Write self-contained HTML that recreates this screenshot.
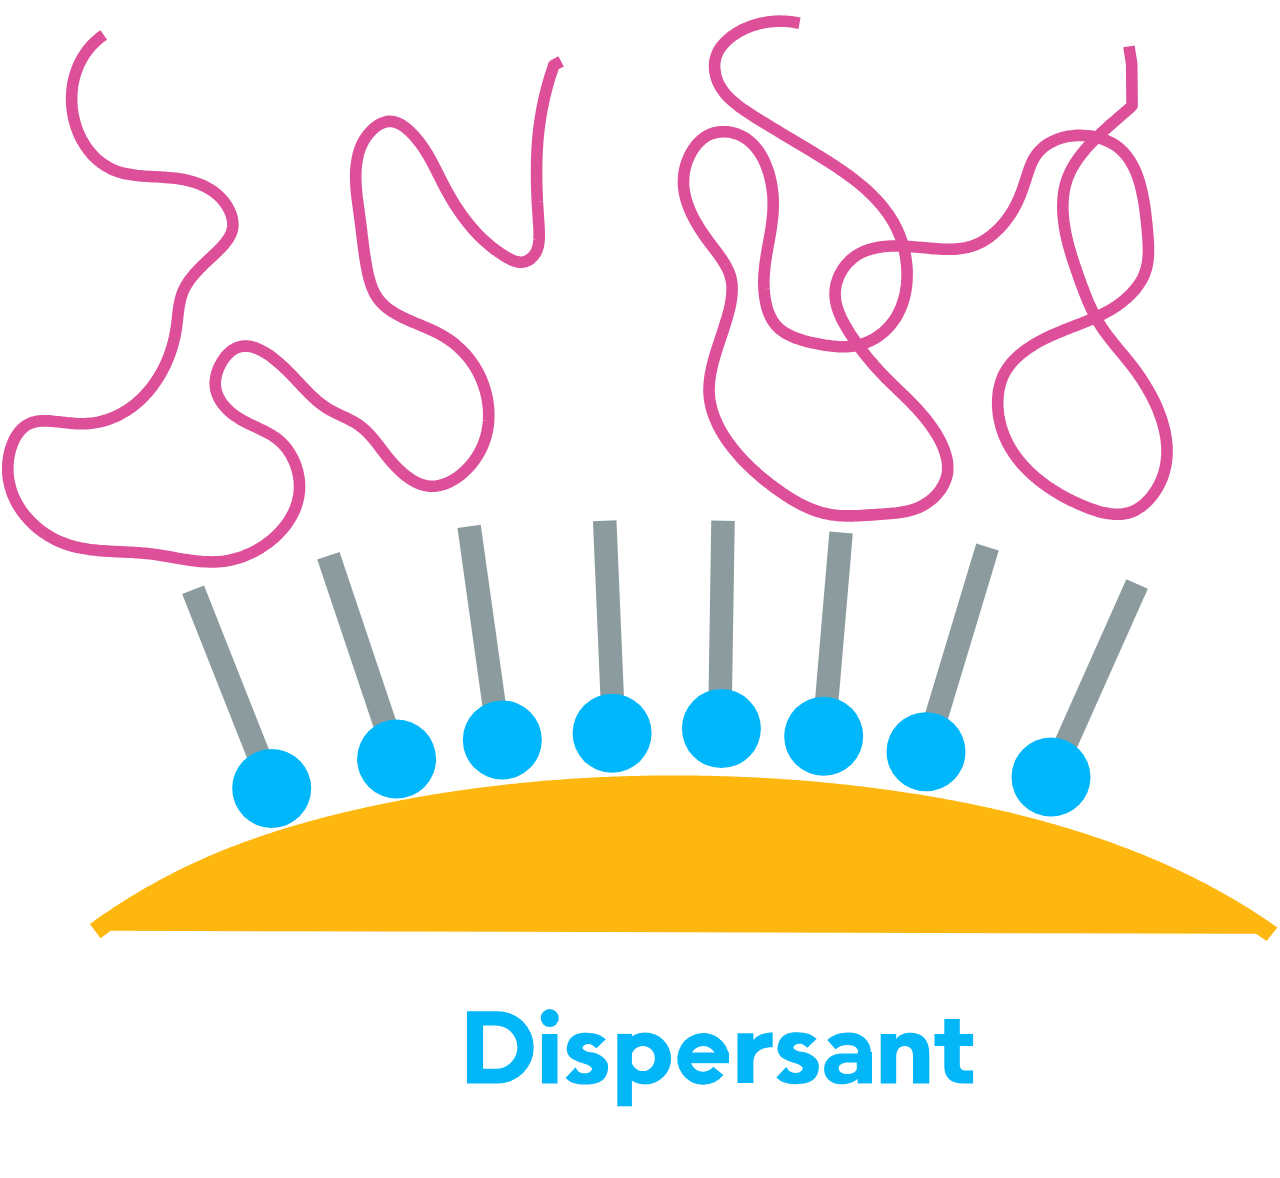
<!DOCTYPE html>
<html><head><meta charset="utf-8"><style>
html,body{margin:0;padding:0;background:#fff;}
body{width:1280px;height:1178px;position:relative;overflow:hidden;}
svg{position:absolute;left:0;top:0;}
.t span{position:absolute;transform-origin:0 0;font-family:"Liberation Sans",sans-serif;font-weight:bold;font-size:100px;line-height:1;color:#03b6f8;white-space:nowrap;}
</style></head><body>
<svg width="1280" height="1178" viewBox="0 0 1280 1178">
<path d="M89.7 924.2 L92.2 922.4 L94.7 920.6 L97.2 918.8 L99.6 917.1 L102.1 915.3 L104.6 913.6 L107.2 911.9 L109.7 910.2 L112.2 908.5 L114.7 906.8 L117.3 905.2 L119.8 903.5 L122.4 901.9 L124.9 900.3 L127.5 898.7 L130.1 897.1 L132.7 895.5 L135.3 893.9 L137.8 892.4 L140.4 890.9 L143.1 889.3 L145.7 887.8 L148.3 886.3 L150.9 884.9 L153.6 883.4 L156.2 881.9 L158.8 880.5 L161.5 879.1 L164.2 877.7 L166.8 876.3 L169.5 874.9 L172.2 873.5 L174.9 872.1 L177.5 870.8 L180.2 869.4 L182.9 868.1 L185.6 866.8 L188.4 865.5 L191.1 864.2 L193.8 863.0 L196.5 861.7 L199.3 860.5 L202.0 859.2 L204.8 858.0 L207.5 856.8 L210.3 855.6 L213.0 854.4 L215.8 853.3 L218.6 852.1 L221.3 851.0 L224.1 849.8 L226.9 848.7 L229.7 847.6 L232.5 846.5 L235.3 845.4 L238.1 844.4 L240.9 843.3 L243.7 842.3 L246.5 841.2 L249.4 840.2 L252.2 839.2 L255.0 838.2 L257.9 837.2 L260.7 836.2 L263.6 835.3 L266.4 834.3 L269.3 833.4 L272.1 832.4 L275.0 831.5 L277.8 830.6 L280.7 829.7 L283.6 828.8 L286.5 827.9 L289.3 827.1 L292.2 826.2 L295.1 825.4 L298.0 824.5 L300.9 823.7 L303.8 822.9 L306.7 822.0 L309.6 821.2 L312.5 820.4 L315.4 819.7 L318.3 818.9 L321.2 818.1 L324.1 817.4 L327.0 816.6 L329.9 815.9 L332.9 815.1 L335.8 814.4 L338.7 813.7 L341.6 813.0 L344.6 812.3 L347.5 811.6 L350.4 810.9 L353.4 810.2 L356.3 809.6 L359.3 808.9 L362.2 808.2 L365.1 807.6 L368.1 806.9 L371.0 806.3 L374.0 805.7 L376.9 805.1 L379.9 804.5 L382.8 803.8 L385.8 803.2 L388.7 802.7 L391.7 802.1 L394.7 801.5 L397.6 800.9 L400.6 800.3 L403.5 799.8 L406.5 799.2 L409.5 798.7 L412.4 798.1 L415.4 797.6 L418.4 797.1 L421.3 796.6 L424.3 796.1 L427.3 795.5 L430.2 795.0 L433.2 794.6 L436.2 794.1 L439.2 793.6 L442.1 793.1 L445.1 792.6 L448.1 792.2 L451.1 791.7 L454.1 791.3 L457.0 790.8 L460.0 790.4 L463.0 790.0 L466.0 789.6 L469.0 789.2 L472.0 788.7 L474.9 788.3 L477.9 787.9 L480.9 787.6 L483.9 787.2 L486.9 786.8 L489.9 786.4 L492.9 786.1 L495.9 785.7 L498.9 785.4 L501.9 785.0 L504.9 784.7 L507.9 784.3 L510.9 784.0 L513.9 783.7 L516.9 783.4 L519.9 783.1 L522.9 782.8 L525.9 782.5 L528.9 782.2 L531.9 781.9 L534.9 781.6 L537.9 781.4 L540.9 781.1 L543.9 780.8 L546.9 780.6 L549.9 780.4 L552.9 780.1 L555.9 779.9 L558.9 779.7 L561.9 779.4 L564.9 779.2 L567.9 779.0 L570.9 778.8 L573.9 778.6 L577.0 778.4 L580.0 778.2 L583.0 778.1 L586.0 777.9 L589.0 777.7 L592.0 777.6 L595.0 777.4 L598.0 777.3 L601.0 777.1 L604.1 777.0 L607.1 776.9 L610.1 776.7 L613.1 776.6 L616.1 776.5 L619.1 776.4 L622.1 776.3 L625.1 776.2 L628.2 776.1 L631.2 776.0 L634.2 775.9 L637.2 775.9 L640.2 775.8 L643.2 775.7 L646.2 775.7 L649.3 775.6 L652.3 775.6 L655.3 775.6 L658.3 775.5 L661.3 775.5 L664.3 775.5 L667.3 775.5 L670.4 775.5 L673.4 775.5 L676.4 775.5 L679.4 775.5 L682.4 775.5 L685.4 775.5 L688.4 775.5 L691.4 775.6 L694.5 775.6 L697.5 775.6 L700.5 775.7 L703.5 775.7 L706.5 775.8 L709.5 775.8 L712.5 775.9 L715.5 776.0 L718.6 776.1 L721.6 776.2 L724.6 776.2 L727.6 776.3 L730.6 776.4 L733.6 776.5 L736.6 776.7 L739.6 776.8 L742.6 776.9 L745.6 777.0 L748.6 777.2 L751.6 777.3 L754.6 777.5 L757.7 777.6 L760.7 777.8 L763.7 777.9 L766.7 778.1 L769.7 778.3 L772.7 778.4 L775.7 778.6 L778.7 778.8 L781.7 779.0 L784.7 779.2 L787.7 779.4 L790.7 779.6 L793.7 779.9 L796.7 780.1 L799.7 780.3 L802.7 780.6 L805.7 780.8 L808.7 781.1 L811.7 781.3 L814.7 781.6 L817.7 781.8 L820.7 782.1 L823.7 782.4 L826.7 782.7 L829.6 783.0 L832.6 783.3 L835.6 783.6 L838.6 783.9 L841.6 784.2 L844.6 784.5 L847.6 784.8 L850.6 785.2 L853.6 785.5 L856.6 785.9 L859.6 786.2 L862.5 786.6 L865.5 786.9 L868.5 787.3 L871.5 787.7 L874.5 788.1 L877.5 788.5 L880.5 788.9 L883.4 789.3 L886.4 789.7 L889.4 790.1 L892.4 790.5 L895.4 790.9 L898.4 791.4 L901.3 791.8 L904.3 792.2 L907.3 792.7 L910.3 793.2 L913.2 793.6 L916.2 794.1 L919.2 794.6 L922.2 795.0 L925.1 795.5 L928.1 796.0 L931.1 796.5 L934.1 797.0 L937.0 797.6 L940.0 798.1 L943.0 798.6 L945.9 799.2 L948.9 799.7 L951.9 800.3 L954.8 800.8 L957.8 801.4 L960.8 801.9 L963.7 802.5 L966.7 803.1 L969.6 803.7 L972.6 804.3 L975.5 804.9 L978.5 805.5 L981.4 806.2 L984.4 806.8 L987.3 807.4 L990.3 808.1 L993.2 808.7 L996.2 809.4 L999.1 810.1 L1002.0 810.7 L1005.0 811.4 L1007.9 812.1 L1010.8 812.8 L1013.8 813.5 L1016.7 814.3 L1019.6 815.0 L1022.5 815.7 L1025.5 816.5 L1028.4 817.2 L1031.3 818.0 L1034.2 818.7 L1037.1 819.5 L1040.0 820.3 L1042.9 821.1 L1045.8 821.9 L1048.7 822.7 L1051.6 823.5 L1054.5 824.3 L1057.4 825.2 L1060.3 826.0 L1063.2 826.9 L1066.1 827.7 L1069.0 828.6 L1071.9 829.5 L1074.7 830.4 L1077.6 831.3 L1080.5 832.2 L1083.3 833.1 L1086.2 834.0 L1089.1 835.0 L1091.9 835.9 L1094.8 836.9 L1097.6 837.8 L1100.5 838.8 L1103.3 839.8 L1106.2 840.8 L1109.0 841.8 L1111.8 842.8 L1114.7 843.8 L1117.5 844.9 L1120.3 845.9 L1123.1 847.0 L1125.9 848.0 L1128.7 849.1 L1131.6 850.2 L1134.4 851.3 L1137.1 852.4 L1139.9 853.5 L1142.7 854.6 L1145.5 855.8 L1148.3 856.9 L1151.1 858.1 L1153.8 859.3 L1156.6 860.4 L1159.4 861.6 L1162.1 862.8 L1164.9 864.0 L1167.6 865.3 L1170.3 866.5 L1173.1 867.8 L1175.8 869.0 L1178.5 870.3 L1181.3 871.6 L1184.0 872.9 L1186.7 874.2 L1189.4 875.5 L1192.1 876.8 L1194.8 878.2 L1197.5 879.5 L1200.1 880.9 L1202.8 882.2 L1205.5 883.6 L1208.2 885.0 L1210.8 886.4 L1213.5 887.9 L1216.1 889.3 L1218.7 890.8 L1221.4 892.2 L1224.0 893.7 L1226.6 895.2 L1229.2 896.7 L1231.9 898.2 L1234.5 899.7 L1237.0 901.3 L1239.6 902.8 L1242.2 904.4 L1244.8 905.9 L1247.4 907.5 L1249.9 909.1 L1252.5 910.8 L1255.0 912.4 L1257.6 914.0 L1260.1 915.7 L1262.6 917.3 L1265.1 919.0 L1267.7 920.7 L1270.2 922.4 L1272.7 924.2 L1275.1 925.9 L1277.6 927.7 L1278.0 926.8 L1266.5 941.0 L1256.0 933.8 L110.6 930.8 L100.5 938.2 L89.5 923.4 Z" fill="#feb70e"/>
<line x1="193.1" y1="589.7" x2="271.7" y2="788.4" stroke="#8c9c9e" stroke-width="23.5"/>
<line x1="328.4" y1="555.7" x2="396.6" y2="759.0" stroke="#8c9c9e" stroke-width="23.5"/>
<line x1="469.1" y1="526.4" x2="497.2" y2="727.0" stroke="#8c9c9e" stroke-width="23.5"/>
<line x1="604.7" y1="520.8" x2="612.8" y2="711.0" stroke="#8c9c9e" stroke-width="23.5"/>
<line x1="723.0" y1="520.8" x2="720.0" y2="712.0" stroke="#8c9c9e" stroke-width="23.5"/>
<line x1="841.1" y1="532.6" x2="823.7" y2="736.3" stroke="#8c9c9e" stroke-width="23.5"/>
<line x1="987.5" y1="547.0" x2="933.6" y2="726.0" stroke="#8c9c9e" stroke-width="23.5"/>
<line x1="1137.1" y1="584.0" x2="1051.0" y2="777.1" stroke="#8c9c9e" stroke-width="23.5"/>
<circle cx="271.7" cy="788.4" r="39.5" fill="#00b7fb"/>
<circle cx="396.6" cy="759.0" r="39.5" fill="#00b7fb"/>
<circle cx="502.3" cy="739.9" r="39.5" fill="#00b7fb"/>
<circle cx="612.1" cy="733.2" r="39.5" fill="#00b7fb"/>
<circle cx="721.4" cy="728.6" r="39.5" fill="#00b7fb"/>
<circle cx="823.7" cy="736.3" r="39.5" fill="#00b7fb"/>
<circle cx="926.0" cy="751.8" r="39.5" fill="#00b7fb"/>
<circle cx="1051.0" cy="777.1" r="39.5" fill="#00b7fb"/>
<path d="M103.8 34.9 L101.1 36.8 L98.6 38.8 L96.1 41.0 L93.8 43.2 L91.6 45.4 L89.5 47.8 L87.6 50.2 L85.7 52.7 L84.0 55.3 L82.4 57.9 L80.9 60.6 L79.5 63.3 L78.2 66.0 L77.1 68.9 L76.1 71.7 L75.1 74.6 L74.3 77.5 L73.6 80.4 L73.0 83.4 L72.5 86.4 L72.1 89.4 L71.9 92.4 L71.7 95.4 L71.6 98.4 L71.7 101.4 L71.8 104.4 L72.0 107.4 L72.4 110.4 L72.8 113.3 L73.4 116.3 L74.0 119.2 L74.7 122.1 L75.6 124.9 L76.5 127.8 L77.5 130.5 L78.6 133.3 L79.8 135.9 L81.1 138.6 L82.5 141.1 L84.0 143.6 L85.5 146.1 L87.2 148.4 L88.9 150.7 L90.7 152.9 L92.6 155.1 L94.6 157.1 L96.7 159.1 L98.8 160.9 L101.1 162.7 L103.4 164.3 L105.8 165.9 L108.3 167.3 L110.8 168.7 L113.4 169.9 L116.1 171.0 L118.9 171.9 L121.8 172.8 L124.7 173.5 L127.6 174.1 L130.7 174.6 L133.7 175.1 L136.9 175.5 L140.0 175.8 L143.2 176.1 L146.4 176.3 L149.7 176.5 L152.9 176.7 L156.2 176.8 L159.4 177.0 L162.7 177.2 L166.0 177.4 L169.2 177.7 L172.4 178.0 L175.6 178.3 L178.8 178.8 L181.9 179.3 L185.0 179.8 L188.0 180.5 L191.0 181.3 L194.0 182.1 L196.8 183.1 L199.6 184.1 L202.4 185.3 L205.1 186.6 L207.6 187.9 L210.2 189.4 L212.6 191.0 L214.9 192.7 L217.1 194.5 L219.3 196.5 L221.3 198.5 L223.2 200.7 L225.0 203.1 L226.7 205.5 L228.2 208.0 L229.5 210.6 L230.7 213.3 L231.6 216.0 L232.3 218.8 L232.7 221.5 L232.9 224.3 L232.7 227.0 L232.3 229.8 L231.5 232.4 L230.4 235.0 L229.0 237.6 L227.4 240.1 L225.5 242.6 L223.5 245.1 L221.3 247.4 L219.0 249.8 L216.7 252.1 L214.2 254.4 L211.8 256.7 L209.4 258.9 L207.0 261.2 L204.7 263.4 L202.4 265.6 L200.2 267.8 L198.1 270.0 L196.0 272.2 L194.1 274.4 L192.2 276.7 L190.4 279.0 L188.7 281.3 L187.2 283.7 L185.7 286.1 L184.4 288.6 L183.2 291.1 L182.2 293.7 L181.3 296.4 L180.5 299.1 L179.9 302.0 L179.3 304.8 L178.8 307.7 L178.4 310.7 L178.0 313.7 L177.7 316.7 L177.4 319.8 L177.0 322.8 L176.6 325.9 L176.2 328.9 L175.7 332.0 L175.1 335.0 L174.5 338.0 L173.7 341.0 L173.0 344.0 L172.1 347.0 L171.2 349.9 L170.2 352.8 L169.2 355.7 L168.0 358.5 L166.9 361.4 L165.6 364.2 L164.3 366.9 L162.9 369.6 L161.5 372.3 L160.0 374.9 L158.4 377.5 L156.8 380.1 L155.1 382.6 L153.4 385.0 L151.6 387.4 L149.7 389.7 L147.8 392.0 L145.8 394.2 L143.8 396.4 L141.7 398.5 L139.6 400.5 L137.4 402.4 L135.2 404.3 L132.9 406.1 L130.5 407.9 L128.1 409.5 L125.7 411.1 L123.1 412.6 L120.6 414.0 L118.0 415.4 L115.3 416.6 L112.6 417.7 L109.9 418.8 L107.1 419.8 L104.3 420.6 L101.4 421.4 L98.5 422.1 L95.5 422.6 L92.5 423.1 L89.5 423.4 L86.4 423.6 L83.3 423.7 L80.1 423.7 L76.9 423.6 L73.7 423.4 L70.4 423.1 L67.2 422.8 L63.9 422.4 L60.7 422.0 L57.5 421.7 L54.3 421.4 L51.2 421.1 L48.1 420.9 L45.1 420.9 L42.1 420.9 L39.2 421.1 L36.5 421.5 L33.8 422.1 L31.2 422.9 L28.8 424.0 L26.5 425.3 L24.3 426.8 L22.3 428.5 L20.3 430.5 L18.6 432.6 L16.9 435.0 L15.4 437.4 L14.0 440.1 L12.8 442.8 L11.7 445.6 L10.7 448.6 L9.9 451.6 L9.2 454.7 L8.6 457.8 L8.2 461.0 L7.9 464.1 L7.8 467.3 L7.8 470.4 L7.9 473.6 L8.2 476.6 L8.6 479.7 L9.2 482.7 L9.9 485.6 L10.7 488.6 L11.6 491.4 L12.6 494.3 L13.8 497.0 L15.1 499.8 L16.4 502.5 L17.9 505.1 L19.5 507.6 L21.1 510.1 L22.9 512.6 L24.7 515.0 L26.7 517.3 L28.7 519.6 L30.7 521.7 L32.9 523.9 L35.1 525.9 L37.4 527.9 L39.8 529.8 L42.2 531.6 L44.7 533.3 L47.2 534.9 L49.7 536.5 L52.4 538.0 L55.0 539.4 L57.7 540.7 L60.4 541.9 L63.2 543.0 L65.9 544.0 L68.7 545.0 L71.6 545.8 L74.4 546.6 L77.3 547.3 L80.2 547.9 L83.1 548.4 L86.0 548.9 L89.0 549.4 L91.9 549.8 L94.9 550.1 L97.9 550.4 L100.9 550.7 L103.9 550.9 L106.9 551.1 L110.0 551.3 L113.0 551.5 L116.1 551.6 L119.1 551.7 L122.2 551.9 L125.2 552.0 L128.3 552.2 L131.4 552.3 L134.4 552.5 L137.5 552.7 L140.5 552.9 L143.6 553.2 L146.6 553.4 L149.7 553.8 L152.7 554.1 L155.7 554.6 L158.8 555.0 L161.8 555.5 L164.8 556.0 L167.8 556.5 L170.8 557.0 L173.7 557.5 L176.7 558.1 L179.7 558.6 L182.7 559.1 L185.6 559.6 L188.6 560.0 L191.6 560.4 L194.5 560.8 L197.5 561.2 L200.4 561.4 L203.4 561.7 L206.3 561.8 L209.3 561.9 L212.2 562.0 L215.2 561.9 L218.1 561.8 L221.0 561.5 L224.0 561.2 L226.9 560.7 L229.9 560.2 L232.8 559.5 L235.7 558.7 L238.6 557.9 L241.5 556.9 L244.4 555.9 L247.2 554.7 L250.0 553.5 L252.8 552.2 L255.5 550.8 L258.2 549.3 L260.8 547.7 L263.4 546.0 L265.9 544.3 L268.4 542.5 L270.8 540.6 L273.2 538.6 L275.4 536.6 L277.6 534.5 L279.7 532.3 L281.8 530.1 L283.7 527.8 L285.6 525.5 L287.3 523.1 L289.0 520.6 L290.5 518.1 L292.0 515.5 L293.3 512.9 L294.5 510.3 L295.6 507.6 L296.6 504.8 L297.4 502.0 L298.1 499.2 L298.7 496.4 L299.1 493.5 L299.4 490.6 L299.5 487.6 L299.5 484.7 L299.4 481.7 L299.0 478.7 L298.5 475.6 L297.9 472.6 L297.1 469.6 L296.2 466.7 L295.2 463.8 L294.0 460.9 L292.6 458.1 L291.2 455.4 L289.6 452.7 L287.9 450.2 L286.1 447.7 L284.1 445.4 L282.1 443.3 L279.9 441.2 L277.7 439.3 L275.3 437.6 L272.9 435.9 L270.4 434.4 L267.8 432.9 L265.1 431.6 L262.5 430.2 L259.8 428.9 L257.0 427.6 L254.3 426.3 L251.5 425.0 L248.8 423.7 L246.0 422.3 L243.3 420.9 L240.6 419.4 L238.0 417.7 L235.4 416.0 L232.9 414.2 L230.5 412.2 L228.2 410.1 L226.0 407.9 L223.9 405.5 L222.0 403.1 L220.4 400.6 L218.9 397.9 L217.6 395.2 L216.6 392.4 L215.8 389.5 L215.4 386.5 L215.2 383.4 L215.4 380.3 L215.9 377.1 L216.6 373.9 L217.6 370.8 L218.8 367.7 L220.3 364.7 L221.9 361.8 L223.7 359.1 L225.6 356.5 L227.7 354.2 L229.9 352.1 L232.1 350.3 L234.5 348.9 L236.8 347.7 L239.2 346.9 L241.7 346.3 L244.2 346.1 L246.7 346.1 L249.2 346.3 L251.8 346.8 L254.3 347.5 L256.9 348.5 L259.5 349.6 L262.1 350.9 L264.7 352.4 L267.3 354.0 L269.9 355.7 L272.4 357.6 L274.9 359.6 L277.4 361.7 L279.9 363.8 L282.4 366.0 L284.8 368.3 L287.1 370.5 L289.4 372.8 L291.7 375.1 L293.9 377.4 L296.0 379.7 L298.1 381.9 L300.2 384.1 L302.2 386.3 L304.3 388.4 L306.3 390.5 L308.3 392.6 L310.3 394.6 L312.4 396.6 L314.5 398.5 L316.6 400.4 L318.8 402.2 L321.0 404.0 L323.3 405.7 L325.7 407.3 L328.2 408.9 L330.8 410.4 L333.5 411.8 L336.2 413.2 L339.1 414.6 L341.9 415.9 L344.8 417.3 L347.6 418.6 L350.4 420.1 L353.1 421.5 L355.8 423.1 L358.3 424.7 L360.7 426.5 L363.0 428.3 L365.2 430.2 L367.3 432.2 L369.3 434.3 L371.3 436.5 L373.2 438.7 L375.1 441.0 L376.9 443.3 L378.7 445.6 L380.5 448.0 L382.3 450.4 L384.2 452.8 L386.0 455.2 L388.0 457.6 L389.9 460.0 L392.0 462.4 L394.1 464.7 L396.3 467.0 L398.5 469.3 L400.8 471.4 L403.1 473.5 L405.5 475.5 L408.0 477.3 L410.4 479.0 L413.0 480.6 L415.5 482.0 L418.1 483.2 L420.8 484.3 L423.4 485.1 L426.1 485.7 L428.8 486.1 L431.5 486.3 L434.3 486.2 L437.0 485.9 L439.7 485.4 L442.5 484.7 L445.2 483.8 L447.9 482.7 L450.5 481.4 L453.1 480.0 L455.7 478.4 L458.2 476.7 L460.7 474.8 L463.1 472.8 L465.4 470.6 L467.6 468.4 L469.8 466.1 L471.8 463.6 L473.8 461.1 L475.7 458.5 L477.4 455.8 L479.0 453.1 L480.5 450.4 L481.9 447.5 L483.1 444.7 L484.2 441.8 L485.2 438.9 L486.1 436.0 L486.8 433.0 L487.4 430.0 L487.9 427.0 L488.3 424.0 L488.6 421.0 L488.7 418.0 L488.8 415.0 L488.7 412.0 L488.6 409.0 L488.3 406.0 L487.9 403.0 L487.5 400.0 L486.9 397.0 L486.2 394.1 L485.5 391.2 L484.6 388.3 L483.7 385.5 L482.7 382.7 L481.6 379.9 L480.4 377.2 L479.2 374.6 L477.8 371.9 L476.4 369.4 L474.9 366.8 L473.3 364.4 L471.6 362.0 L469.9 359.6 L468.1 357.3 L466.2 355.1 L464.3 352.9 L462.2 350.7 L460.1 348.7 L457.9 346.7 L455.7 344.7 L453.4 342.9 L451.0 341.1 L448.5 339.4 L446.0 337.7 L443.4 336.1 L440.7 334.6 L438.0 333.2 L435.2 331.8 L432.4 330.4 L429.6 329.2 L426.7 327.9 L423.8 326.7 L420.9 325.4 L418.0 324.2 L415.1 323.0 L412.3 321.8 L409.4 320.5 L406.6 319.3 L403.8 318.0 L401.1 316.6 L398.4 315.3 L395.8 313.8 L393.3 312.3 L390.9 310.7 L388.5 309.0 L386.2 307.3 L384.1 305.4 L382.1 303.4 L380.1 301.3 L378.4 299.1 L376.7 296.8 L375.2 294.3 L373.9 291.7 L372.6 288.9 L371.5 286.1 L370.5 283.2 L369.6 280.2 L368.8 277.2 L368.0 274.1 L367.4 271.1 L366.8 268.0 L366.2 264.9 L365.7 261.8 L365.2 258.8 L364.7 255.8 L364.3 252.8 L363.9 249.9 L363.5 246.9 L363.1 243.9 L362.7 241.0 L362.4 238.1 L362.0 235.2 L361.7 232.2 L361.3 229.3 L361.0 226.4 L360.6 223.5 L360.2 220.5 L359.8 217.6 L359.4 214.6 L359.0 211.7 L358.6 208.7 L358.2 205.7 L357.8 202.7 L357.4 199.7 L357.0 196.7 L356.7 193.7 L356.4 190.7 L356.1 187.7 L356.0 184.7 L355.8 181.7 L355.7 178.7 L355.7 175.7 L355.8 172.7 L355.9 169.7 L356.2 166.7 L356.5 163.7 L357.0 160.7 L357.5 157.7 L358.2 154.7 L359.0 151.8 L360.0 148.9 L361.1 146.0 L362.4 143.2 L363.9 140.4 L365.6 137.8 L367.4 135.2 L369.5 132.7 L371.7 130.4 L374.0 128.2 L376.4 126.3 L378.9 124.7 L381.5 123.3 L384.1 122.3 L386.8 121.6 L389.4 121.3 L392.1 121.5 L394.7 122.0 L397.3 122.9 L399.9 124.0 L402.4 125.5 L404.9 127.2 L407.3 129.1 L409.6 131.2 L411.9 133.5 L414.1 135.8 L416.2 138.3 L418.2 140.7 L420.2 143.2 L422.0 145.8 L423.7 148.3 L425.4 150.8 L427.0 153.4 L428.6 156.0 L430.0 158.6 L431.5 161.2 L432.9 163.8 L434.2 166.4 L435.6 169.0 L436.9 171.7 L438.2 174.3 L439.6 176.9 L440.9 179.6 L442.2 182.2 L443.6 184.8 L444.9 187.5 L446.3 190.1 L447.8 192.7 L449.3 195.3 L450.8 197.9 L452.3 200.5 L453.9 203.1 L455.5 205.7 L457.2 208.2 L458.9 210.7 L460.6 213.2 L462.3 215.7 L464.1 218.1 L466.0 220.6 L467.8 222.9 L469.8 225.3 L471.7 227.6 L473.7 229.9 L475.7 232.1 L477.8 234.4 L479.9 236.5 L482.1 238.6 L484.3 240.7 L486.6 242.7 L488.9 244.7 L491.2 246.6 L493.6 248.5 L496.0 250.3 L498.5 252.0 L501.0 253.7 L503.6 255.4 L506.2 256.9 L508.8 258.4 L511.5 259.8 L514.3 261.0 L517.0 261.8 L519.8 262.3 L522.5 262.2 L525.2 261.6 L527.8 260.5 L530.2 259.0 L532.3 257.2 L534.1 255.2 L535.6 252.9 L536.8 250.5 L537.7 247.9 L538.4 245.2 L538.8 242.3 L539.1 239.3 L539.2 236.3 L539.2 233.1 L539.1 230.0 L539.0 226.7 L538.7 223.5 L538.5 220.3 L538.3 217.1 L538.1 213.9 L537.9 210.7 L537.7 207.6 L537.5 204.4 L537.3 201.3 L537.2 198.2 L537.1 195.1 L536.9 192.1 L536.8 189.0 L536.7 186.0 L536.7 182.9 L536.6 179.9 L536.6 176.9 L536.6 174.0 L536.6 171.0 L536.6 168.0 L536.6 165.0 L536.7 162.1 L536.7 159.2 L536.9 156.2 L537.0 153.3 L537.1 150.4 L537.3 147.5 L537.5 144.5 L537.7 141.6 L537.9 138.7 L538.2 135.8 L538.5 132.9 L538.8 130.0 L539.2 127.1 L539.6 124.2 L540.0 121.3 L540.4 118.4 L540.9 115.5 L541.4 112.6 L541.9 109.7 L542.5 106.8 L543.1 103.9 L543.7 100.9 L544.3 98.0 L545.0 95.0 L545.8 92.1 L546.5 89.1 L547.3 86.2 L548.2 83.2 L549.0 80.2 L549.9 77.2 L550.9 74.2 L551.9 71.2 L552.9 68.1 L554.0 65.1 L553.5 65.5 L561.1 61.4" fill="none" stroke="#de4f9a" stroke-width="11.6" stroke-linejoin="round"/>
<path d="M1128.9 46.4 L1131.7 63.9 L1132.1 105.8 L1132.1 105.8 L1129.8 107.9 L1127.6 109.8 L1125.3 111.8 L1123.1 113.8 L1120.9 115.7 L1118.6 117.7 L1116.4 119.6 L1114.1 121.6 L1111.9 123.5 L1109.6 125.5 L1107.4 127.5 L1105.2 129.5 L1103.0 131.5 L1100.8 133.5 L1098.6 135.6 L1096.4 137.7 L1094.3 139.9 L1092.1 142.1 L1090.0 144.3 L1087.9 146.5 L1085.9 148.8 L1083.9 151.2 L1081.9 153.6 L1080.1 156.0 L1078.2 158.5 L1076.5 161.0 L1074.8 163.5 L1073.3 166.1 L1071.8 168.7 L1070.4 171.4 L1069.2 174.1 L1068.0 176.8 L1067.0 179.6 L1066.1 182.4 L1065.3 185.2 L1064.6 188.1 L1064.1 191.0 L1063.6 193.9 L1063.3 196.9 L1063.0 199.8 L1062.9 202.8 L1062.8 205.8 L1062.8 208.8 L1062.9 211.7 L1063.1 214.7 L1063.4 217.7 L1063.7 220.7 L1064.1 223.6 L1064.5 226.6 L1065.0 229.5 L1065.5 232.4 L1066.1 235.4 L1066.8 238.3 L1067.5 241.2 L1068.2 244.1 L1069.0 247.0 L1069.8 249.8 L1070.7 252.7 L1071.5 255.6 L1072.4 258.5 L1073.4 261.4 L1074.3 264.2 L1075.3 267.1 L1076.3 270.0 L1077.3 272.9 L1078.3 275.8 L1079.3 278.7 L1080.4 281.6 L1081.4 284.5 L1082.5 287.4 L1083.6 290.2 L1084.7 293.1 L1085.8 296.0 L1087.0 298.8 L1088.1 301.6 L1089.4 304.4 L1090.6 307.2 L1091.9 309.9 L1093.2 312.6 L1094.6 315.2 L1096.0 317.9 L1097.5 320.4 L1099.0 323.0 L1100.5 325.4 L1102.1 327.9 L1103.7 330.3 L1105.4 332.6 L1107.1 335.0 L1108.9 337.3 L1110.7 339.5 L1112.5 341.8 L1114.3 344.1 L1116.1 346.3 L1118.0 348.6 L1119.8 350.8 L1121.7 353.1 L1123.6 355.3 L1125.4 357.6 L1127.3 359.9 L1129.2 362.2 L1131.0 364.6 L1132.9 366.9 L1134.7 369.4 L1136.5 371.8 L1138.3 374.3 L1140.0 376.9 L1141.8 379.4 L1143.4 382.1 L1145.1 384.7 L1146.7 387.4 L1148.3 390.1 L1149.8 392.8 L1151.3 395.6 L1152.8 398.4 L1154.2 401.2 L1155.5 404.0 L1156.8 406.8 L1158.0 409.7 L1159.1 412.6 L1160.2 415.5 L1161.2 418.4 L1162.2 421.3 L1163.0 424.3 L1163.8 427.2 L1164.6 430.2 L1165.2 433.1 L1165.7 436.1 L1166.2 439.0 L1166.5 442.0 L1166.8 444.9 L1167.0 447.9 L1167.0 450.8 L1167.0 453.8 L1166.8 456.7 L1166.6 459.6 L1166.2 462.5 L1165.7 465.4 L1165.1 468.3 L1164.4 471.2 L1163.6 474.0 L1162.6 476.9 L1161.5 479.7 L1160.3 482.4 L1158.9 485.2 L1157.4 487.9 L1155.8 490.5 L1154.1 493.0 L1152.3 495.5 L1150.4 497.9 L1148.4 500.1 L1146.3 502.2 L1144.1 504.2 L1141.9 506.1 L1139.5 507.7 L1137.1 509.2 L1134.6 510.6 L1132.0 511.7 L1129.4 512.6 L1126.8 513.3 L1124.1 513.8 L1121.3 514.2 L1118.5 514.3 L1115.7 514.3 L1112.8 514.1 L1109.9 513.8 L1107.0 513.3 L1104.0 512.8 L1101.1 512.1 L1098.1 511.3 L1095.1 510.3 L1092.2 509.4 L1089.2 508.3 L1086.3 507.1 L1083.3 505.9 L1080.4 504.7 L1077.5 503.4 L1074.6 502.0 L1071.7 500.7 L1068.9 499.3 L1066.1 497.8 L1063.3 496.3 L1060.5 494.8 L1057.8 493.2 L1055.1 491.5 L1052.5 489.9 L1049.9 488.2 L1047.3 486.4 L1044.8 484.6 L1042.3 482.8 L1039.9 480.9 L1037.5 479.0 L1035.2 477.1 L1032.9 475.1 L1030.7 473.0 L1028.5 471.0 L1026.4 468.8 L1024.3 466.7 L1022.3 464.5 L1020.4 462.2 L1018.5 459.9 L1016.7 457.6 L1015.0 455.2 L1013.3 452.8 L1011.8 450.4 L1010.2 447.9 L1008.8 445.3 L1007.4 442.8 L1006.2 440.1 L1005.0 437.5 L1003.8 434.8 L1002.8 432.0 L1001.9 429.2 L1001.0 426.4 L1000.3 423.5 L999.6 420.6 L999.0 417.7 L998.5 414.7 L998.2 411.7 L997.9 408.6 L997.7 405.6 L997.7 402.6 L997.8 399.5 L998.0 396.5 L998.3 393.5 L998.7 390.6 L999.3 387.6 L1000.0 384.8 L1000.8 381.9 L1001.8 379.2 L1002.9 376.4 L1004.1 373.8 L1005.6 371.2 L1007.1 368.8 L1008.8 366.4 L1010.6 364.0 L1012.5 361.8 L1014.6 359.6 L1016.7 357.5 L1018.9 355.4 L1021.3 353.5 L1023.7 351.6 L1026.1 349.7 L1028.7 348.0 L1031.3 346.3 L1033.9 344.6 L1036.6 343.0 L1039.3 341.5 L1042.1 340.0 L1044.9 338.6 L1047.7 337.3 L1050.5 335.9 L1053.3 334.7 L1056.1 333.4 L1058.9 332.3 L1061.8 331.1 L1064.6 329.9 L1067.4 328.8 L1070.3 327.7 L1073.1 326.6 L1075.9 325.5 L1078.7 324.4 L1081.6 323.3 L1084.4 322.2 L1087.1 321.1 L1089.9 319.9 L1092.6 318.8 L1095.4 317.6 L1098.1 316.3 L1100.8 315.0 L1103.4 313.7 L1106.0 312.3 L1108.6 310.9 L1111.2 309.4 L1113.7 307.9 L1116.2 306.2 L1118.7 304.5 L1121.1 302.8 L1123.4 300.9 L1125.8 298.9 L1128.0 296.9 L1130.2 294.8 L1132.2 292.7 L1134.2 290.5 L1136.1 288.2 L1137.9 285.8 L1139.5 283.4 L1141.1 281.0 L1142.5 278.5 L1143.7 275.9 L1144.8 273.3 L1145.7 270.7 L1146.5 268.0 L1147.1 265.2 L1147.6 262.5 L1148.0 259.6 L1148.2 256.8 L1148.4 253.9 L1148.5 251.0 L1148.4 248.0 L1148.4 245.0 L1148.2 242.0 L1148.0 239.0 L1147.8 235.9 L1147.5 232.8 L1147.3 229.7 L1147.0 226.5 L1146.7 223.4 L1146.3 220.2 L1146.0 217.0 L1145.6 213.8 L1145.2 210.6 L1144.8 207.4 L1144.3 204.3 L1143.8 201.1 L1143.2 198.0 L1142.6 194.9 L1141.9 191.8 L1141.2 188.7 L1140.5 185.7 L1139.6 182.7 L1138.7 179.8 L1137.8 177.0 L1136.7 174.1 L1135.6 171.4 L1134.4 168.7 L1133.1 166.1 L1131.7 163.6 L1130.3 161.1 L1128.7 158.8 L1127.1 156.5 L1125.3 154.3 L1123.4 152.2 L1121.5 150.3 L1119.4 148.4 L1117.2 146.7 L1114.9 145.0 L1112.4 143.5 L1109.9 142.2 L1107.2 140.9 L1104.5 139.8 L1101.7 138.8 L1098.8 137.9 L1095.9 137.2 L1092.9 136.5 L1089.9 136.0 L1086.9 135.7 L1083.8 135.5 L1080.7 135.4 L1077.6 135.4 L1074.5 135.6 L1071.5 135.9 L1068.5 136.3 L1065.5 136.9 L1062.5 137.7 L1059.7 138.5 L1056.8 139.5 L1054.1 140.7 L1051.5 142.0 L1048.9 143.4 L1046.4 145.0 L1044.1 146.7 L1041.9 148.6 L1039.8 150.6 L1037.9 152.8 L1036.1 155.1 L1034.5 157.5 L1033.0 160.1 L1031.7 162.9 L1030.5 165.7 L1029.4 168.6 L1028.4 171.5 L1027.4 174.5 L1026.4 177.5 L1025.5 180.5 L1024.5 183.4 L1023.5 186.4 L1022.5 189.3 L1021.5 192.1 L1020.4 194.9 L1019.2 197.7 L1018.0 200.5 L1016.7 203.3 L1015.3 206.0 L1013.9 208.7 L1012.3 211.4 L1010.6 214.0 L1008.9 216.6 L1007.0 219.2 L1005.1 221.7 L1003.1 224.1 L1001.0 226.5 L998.9 228.7 L996.6 230.9 L994.3 233.0 L992.0 235.0 L989.6 236.9 L987.1 238.6 L984.6 240.3 L982.1 241.8 L979.5 243.1 L976.9 244.3 L974.2 245.3 L971.5 246.2 L968.8 247.0 L966.0 247.6 L963.2 248.1 L960.4 248.6 L957.6 248.9 L954.7 249.1 L951.8 249.2 L948.9 249.3 L946.0 249.2 L943.0 249.2 L940.0 249.0 L937.0 248.8 L934.0 248.6 L931.0 248.4 L928.0 248.1 L924.9 247.8 L921.9 247.5 L918.8 247.2 L915.7 247.0 L912.7 246.7 L909.6 246.5 L906.5 246.3 L903.4 246.1 L900.3 246.0 L897.2 245.9 L894.1 246.0 L891.1 246.0 L888.0 246.2 L884.9 246.5 L881.9 246.8 L878.9 247.3 L875.9 247.9 L872.9 248.5 L870.0 249.3 L867.2 250.3 L864.4 251.3 L861.7 252.5 L859.1 253.9 L856.6 255.4 L854.2 257.0 L851.9 258.9 L849.7 260.9 L847.6 263.0 L845.6 265.3 L843.8 267.7 L842.2 270.2 L840.7 272.8 L839.3 275.4 L838.1 278.2 L837.2 281.0 L836.3 283.8 L835.7 286.7 L835.3 289.6 L835.1 292.5 L835.1 295.4 L835.3 298.3 L835.7 301.1 L836.3 304.0 L837.0 306.9 L837.9 309.7 L838.9 312.5 L840.1 315.3 L841.3 318.1 L842.7 320.9 L844.2 323.6 L845.7 326.3 L847.3 329.0 L848.9 331.7 L850.6 334.3 L852.3 336.9 L854.1 339.5 L855.8 342.0 L857.6 344.5 L859.4 347.0 L861.2 349.5 L863.1 351.9 L864.9 354.3 L866.8 356.6 L868.7 359.0 L870.6 361.3 L872.6 363.5 L874.5 365.8 L876.5 368.0 L878.5 370.2 L880.5 372.4 L882.6 374.5 L884.6 376.7 L886.7 378.8 L888.8 380.8 L890.9 382.9 L893.0 385.0 L895.2 387.0 L897.3 389.1 L899.4 391.1 L901.5 393.2 L903.7 395.2 L905.8 397.3 L907.9 399.4 L910.0 401.5 L912.1 403.6 L914.1 405.8 L916.2 407.9 L918.2 410.1 L920.2 412.4 L922.2 414.7 L924.2 417.0 L926.1 419.4 L928.0 421.8 L929.8 424.2 L931.6 426.8 L933.4 429.4 L935.1 432.0 L936.8 434.7 L938.4 437.4 L939.9 440.2 L941.3 443.0 L942.6 445.9 L943.8 448.7 L944.8 451.6 L945.7 454.5 L946.5 457.3 L947.1 460.2 L947.5 463.1 L947.7 466.0 L947.7 468.8 L947.6 471.6 L947.2 474.4 L946.5 477.1 L945.7 479.8 L944.6 482.4 L943.4 485.0 L942.0 487.5 L940.4 490.0 L938.6 492.3 L936.7 494.5 L934.6 496.7 L932.5 498.7 L930.1 500.6 L927.7 502.4 L925.2 504.0 L922.6 505.6 L919.9 506.9 L917.2 508.1 L914.4 509.1 L911.5 510.0 L908.6 510.8 L905.6 511.5 L902.6 512.0 L899.6 512.5 L896.5 512.9 L893.4 513.2 L890.3 513.5 L887.1 513.7 L884.0 514.0 L880.8 514.2 L877.6 514.4 L874.4 514.7 L871.2 514.9 L868.1 515.1 L864.9 515.3 L861.7 515.5 L858.6 515.7 L855.5 515.8 L852.3 515.9 L849.3 515.9 L846.2 515.9 L843.2 515.8 L840.2 515.7 L837.3 515.4 L834.3 515.1 L831.5 514.7 L828.7 514.2 L825.9 513.6 L823.1 513.0 L820.4 512.2 L817.7 511.4 L815.1 510.5 L812.4 509.5 L809.8 508.5 L807.3 507.4 L804.7 506.2 L802.2 505.0 L799.6 503.7 L797.1 502.3 L794.6 500.9 L792.1 499.5 L789.6 497.9 L787.2 496.4 L784.7 494.7 L782.2 493.1 L779.7 491.3 L777.3 489.6 L774.8 487.8 L772.3 485.9 L769.8 484.0 L767.4 482.1 L764.9 480.2 L762.5 478.2 L760.0 476.1 L757.6 474.0 L755.3 471.9 L752.9 469.8 L750.6 467.6 L748.3 465.4 L746.0 463.1 L743.8 460.9 L741.6 458.6 L739.5 456.2 L737.4 453.8 L735.4 451.4 L733.4 449.0 L731.5 446.6 L729.6 444.1 L727.8 441.6 L726.0 439.0 L724.3 436.5 L722.7 433.9 L721.2 431.3 L719.7 428.7 L718.4 426.1 L717.1 423.4 L715.9 420.7 L714.7 418.0 L713.7 415.3 L712.8 412.6 L711.9 409.8 L711.2 407.1 L710.6 404.3 L710.0 401.5 L709.6 398.7 L709.3 395.9 L709.1 393.0 L709.0 390.2 L709.1 387.3 L709.2 384.5 L709.5 381.6 L709.8 378.7 L710.2 375.9 L710.7 373.0 L711.3 370.1 L711.9 367.2 L712.6 364.2 L713.4 361.3 L714.2 358.4 L715.0 355.5 L715.9 352.5 L716.8 349.6 L717.8 346.7 L718.8 343.7 L719.7 340.8 L720.7 337.8 L721.7 334.9 L722.7 331.9 L723.7 328.9 L724.6 326.0 L725.5 323.0 L726.4 320.1 L727.3 317.1 L728.1 314.2 L728.9 311.2 L729.6 308.3 L730.3 305.3 L730.8 302.4 L731.3 299.5 L731.7 296.6 L731.9 293.7 L732.1 290.8 L732.1 288.0 L732.0 285.2 L731.7 282.4 L731.2 279.7 L730.6 277.0 L729.8 274.3 L728.8 271.7 L727.6 269.1 L726.3 266.6 L724.9 264.1 L723.3 261.5 L721.7 259.0 L720.0 256.6 L718.2 254.1 L716.3 251.6 L714.4 249.1 L712.5 246.6 L710.6 244.1 L708.8 241.6 L706.9 239.0 L705.1 236.5 L703.3 233.9 L701.5 231.3 L699.8 228.7 L698.2 226.0 L696.6 223.3 L695.0 220.6 L693.6 217.9 L692.2 215.2 L690.9 212.5 L689.7 209.7 L688.6 206.9 L687.5 204.1 L686.6 201.3 L685.8 198.5 L685.1 195.6 L684.5 192.8 L684.1 189.9 L683.7 187.0 L683.5 184.1 L683.5 181.2 L683.6 178.3 L683.8 175.3 L684.2 172.4 L684.8 169.4 L685.5 166.5 L686.4 163.5 L687.4 160.5 L688.7 157.6 L690.0 154.8 L691.5 152.0 L693.2 149.3 L695.0 146.7 L696.9 144.3 L699.0 142.1 L701.2 140.0 L703.5 138.1 L705.9 136.5 L708.5 135.0 L711.1 133.9 L713.8 133.0 L716.6 132.3 L719.5 131.9 L722.4 131.7 L725.3 131.7 L728.2 131.9 L731.0 132.4 L733.9 133.1 L736.7 133.9 L739.4 135.0 L742.0 136.2 L744.5 137.6 L746.9 139.2 L749.2 141.0 L751.4 142.9 L753.4 144.9 L755.4 147.1 L757.2 149.4 L759.0 151.8 L760.6 154.4 L762.2 157.0 L763.6 159.7 L764.9 162.5 L766.1 165.4 L767.2 168.4 L768.3 171.4 L769.2 174.4 L770.0 177.5 L770.7 180.6 L771.4 183.8 L771.9 186.9 L772.3 190.1 L772.7 193.2 L773.0 196.3 L773.1 199.5 L773.2 202.5 L773.2 205.6 L773.1 208.6 L773.0 211.6 L772.8 214.6 L772.5 217.6 L772.2 220.5 L771.8 223.5 L771.4 226.4 L771.0 229.3 L770.5 232.2 L770.0 235.1 L769.5 238.0 L769.0 240.9 L768.4 243.8 L767.9 246.7 L767.4 249.6 L766.9 252.5 L766.4 255.4 L766.0 258.3 L765.5 261.2 L765.1 264.1 L764.8 267.1 L764.5 270.1 L764.2 273.1 L764.0 276.1 L763.9 279.1 L763.8 282.1 L763.9 285.2 L764.0 288.3 L764.2 291.4 L764.5 294.5 L764.9 297.6 L765.4 300.7 L766.0 303.7 L766.7 306.7 L767.6 309.6 L768.5 312.4 L769.7 315.1 L770.9 317.7 L772.3 320.2 L773.9 322.6 L775.6 324.8 L777.5 326.9 L779.5 328.8 L781.7 330.5 L784.0 332.2 L786.5 333.7 L789.1 335.1 L791.7 336.3 L794.5 337.5 L797.3 338.6 L800.3 339.6 L803.2 340.5 L806.3 341.3 L809.3 342.1 L812.4 342.8 L815.6 343.4 L818.7 344.0 L821.8 344.6 L824.9 345.2 L828.0 345.6 L831.2 346.0 L834.2 346.3 L837.3 346.6 L840.4 346.7 L843.4 346.8 L846.4 346.7 L849.4 346.5 L852.4 346.2 L855.3 345.8 L858.2 345.2 L861.0 344.4 L863.8 343.5 L866.6 342.5 L869.3 341.3 L871.9 340.0 L874.5 338.6 L877.0 337.0 L879.4 335.4 L881.7 333.6 L884.0 331.7 L886.1 329.7 L888.2 327.6 L890.2 325.4 L892.0 323.1 L893.8 320.8 L895.4 318.4 L896.9 315.9 L898.3 313.3 L899.6 310.6 L900.8 308.0 L901.9 305.2 L902.8 302.4 L903.7 299.6 L904.5 296.7 L905.2 293.7 L905.7 290.8 L906.2 287.8 L906.6 284.7 L906.8 281.7 L907.0 278.6 L907.1 275.6 L907.1 272.5 L907.0 269.4 L906.8 266.3 L906.5 263.2 L906.1 260.2 L905.7 257.1 L905.1 254.1 L904.5 251.0 L903.8 248.0 L903.0 245.1 L902.1 242.1 L901.1 239.2 L900.1 236.4 L898.9 233.6 L897.7 230.8 L896.4 228.1 L895.1 225.4 L893.7 222.8 L892.2 220.3 L890.6 217.7 L889.0 215.3 L887.3 212.8 L885.5 210.5 L883.7 208.1 L881.9 205.8 L880.0 203.5 L878.0 201.3 L876.0 199.1 L873.9 197.0 L871.8 194.9 L869.6 192.8 L867.5 190.7 L865.2 188.7 L863.0 186.7 L860.6 184.8 L858.3 182.9 L855.9 181.0 L853.6 179.1 L851.1 177.3 L848.7 175.5 L846.2 173.7 L843.7 171.9 L841.2 170.2 L838.7 168.5 L836.2 166.8 L833.7 165.1 L831.1 163.5 L828.6 161.8 L826.0 160.2 L823.5 158.6 L820.9 157.0 L818.4 155.4 L815.8 153.9 L813.3 152.3 L810.7 150.8 L808.2 149.3 L805.7 147.7 L803.2 146.2 L800.6 144.7 L798.1 143.2 L795.6 141.7 L793.1 140.2 L790.6 138.7 L788.0 137.2 L785.5 135.7 L783.0 134.2 L780.4 132.7 L777.9 131.1 L775.3 129.6 L772.8 128.1 L770.2 126.5 L767.6 124.9 L765.0 123.3 L762.4 121.7 L759.8 120.1 L757.2 118.5 L754.5 116.8 L751.9 115.1 L749.2 113.4 L746.6 111.7 L743.9 109.9 L741.4 108.1 L738.8 106.2 L736.4 104.3 L734.0 102.3 L731.7 100.3 L729.4 98.2 L727.3 96.0 L725.3 93.8 L723.5 91.4 L721.8 89.0 L720.2 86.5 L718.8 84.0 L717.6 81.3 L716.6 78.6 L715.8 75.8 L715.2 73.0 L714.8 70.1 L714.6 67.3 L714.6 64.4 L714.9 61.6 L715.4 58.9 L716.2 56.2 L717.2 53.5 L718.4 51.0 L719.9 48.5 L721.6 46.2 L723.5 43.9 L725.6 41.7 L727.8 39.6 L730.2 37.6 L732.7 35.7 L735.2 34.0 L737.9 32.3 L740.7 30.7 L743.5 29.3 L746.4 28.0 L749.3 26.8 L752.2 25.7 L755.2 24.8 L758.1 24.0 L761.1 23.2 L764.2 22.6 L767.2 22.1 L770.2 21.7 L773.2 21.4 L776.2 21.2 L779.2 21.1 L782.2 21.2 L785.2 21.3 L788.1 21.5 L791.0 21.8 L793.9 22.2 L796.7 22.7 L799.5 23.2" fill="none" stroke="#de4f9a" stroke-width="11.6" stroke-linejoin="round"/>
<path fill-rule="evenodd" fill="#03b6f8" d="M467 1011.25 H497.6 A36.1 36.1 0 0 1 497.6 1083.5 H467 Z M483.1 1025.6 H495.8 A21.6 21.6 0 0 1 495.8 1068.8 H483.1 Z"/>
<rect x="541.9" y="1034" width="15.6" height="49.5" fill="#03b6f8"/>
<circle cx="549.75" cy="1018.1" r="9" fill="#03b6f8"/>
<path d="M605.80 1039.30 C604.50 1038.50 601.13 1035.60 598.00 1034.50 C594.87 1033.40 590.50 1032.78 587.00 1032.70 C583.50 1032.62 579.83 1032.95 577.00 1034.00 C574.17 1035.05 571.68 1036.83 570.00 1039.00 C568.32 1041.17 567.32 1044.67 566.90 1047.00 C566.48 1049.33 566.82 1051.17 567.50 1053.00 C568.18 1054.83 569.08 1056.50 571.00 1058.00 C572.92 1059.50 576.17 1060.83 579.00 1062.00 C581.83 1063.17 585.83 1063.83 588.00 1065.00 C590.17 1066.17 592.00 1067.67 592.00 1069.00 C592.00 1070.33 590.00 1072.42 588.00 1073.00 C586.00 1073.58 582.10 1073.42 580.00 1072.50 C577.90 1071.58 576.17 1068.33 575.40 1067.50 L565.50 1078.00 C566.58 1078.75 568.92 1081.40 572.00 1082.50 C575.08 1083.60 579.83 1084.52 584.00 1084.60 C588.17 1084.68 593.50 1084.18 597.00 1083.00 C600.50 1081.82 603.17 1079.83 605.00 1077.50 C606.83 1075.17 607.67 1071.58 608.00 1069.00 C608.33 1066.42 608.00 1064.08 607.00 1062.00 C606.00 1059.92 604.00 1058.00 602.00 1056.50 C600.00 1055.00 597.50 1053.83 595.00 1053.00 C592.50 1052.17 589.07 1052.30 587.00 1051.50 C584.93 1050.70 582.85 1049.35 582.60 1048.20 C582.35 1047.05 584.10 1045.22 585.50 1044.60 C586.90 1043.98 589.18 1043.90 591.00 1044.50 C592.82 1045.10 595.50 1047.58 596.40 1048.20 Z" fill="#03b6f8"/>
<path transform="translate(210.8 -0.4)" d="M605.80 1039.30 C604.50 1038.50 601.13 1035.60 598.00 1034.50 C594.87 1033.40 590.50 1032.78 587.00 1032.70 C583.50 1032.62 579.83 1032.95 577.00 1034.00 C574.17 1035.05 571.68 1036.83 570.00 1039.00 C568.32 1041.17 567.32 1044.67 566.90 1047.00 C566.48 1049.33 566.82 1051.17 567.50 1053.00 C568.18 1054.83 569.08 1056.50 571.00 1058.00 C572.92 1059.50 576.17 1060.83 579.00 1062.00 C581.83 1063.17 585.83 1063.83 588.00 1065.00 C590.17 1066.17 592.00 1067.67 592.00 1069.00 C592.00 1070.33 590.00 1072.42 588.00 1073.00 C586.00 1073.58 582.10 1073.42 580.00 1072.50 C577.90 1071.58 576.17 1068.33 575.40 1067.50 L565.50 1078.00 C566.58 1078.75 568.92 1081.40 572.00 1082.50 C575.08 1083.60 579.83 1084.52 584.00 1084.60 C588.17 1084.68 593.50 1084.18 597.00 1083.00 C600.50 1081.82 603.17 1079.83 605.00 1077.50 C606.83 1075.17 607.67 1071.58 608.00 1069.00 C608.33 1066.42 608.00 1064.08 607.00 1062.00 C606.00 1059.92 604.00 1058.00 602.00 1056.50 C600.00 1055.00 597.50 1053.83 595.00 1053.00 C592.50 1052.17 589.07 1052.30 587.00 1051.50 C584.93 1050.70 582.85 1049.35 582.60 1048.20 C582.35 1047.05 584.10 1045.22 585.50 1044.60 C586.90 1043.98 589.18 1043.90 591.00 1044.50 C592.82 1045.10 595.50 1047.58 596.40 1048.20 Z" fill="#03b6f8"/>
<rect x="617.3" y="1033.9" width="14.6" height="72.4" fill="#03b6f8"/>
<path fill-rule="evenodd" fill="#03b6f8" d="M671.1 1058.5 A25.9 25.9 0 1 1 619.3 1058.5 A25.9 25.9 0 1 1 671.1 1058.5 Z M654.8 1058.5 A11.9 12.6 0 1 0 631 1058.5 A11.9 12.6 0 1 0 654.8 1058.5 Z"/>
<path d="M722.5 1058 A19.3 19.3 0 1 0 718.3 1070.9" fill="none" stroke="#03b6f8" stroke-width="13"/>
<rect x="686" y="1052.5" width="43" height="10.7" fill="#03b6f8"/>
<path fill="#03b6f8" d="M737.5 1083.1 V1033.3 H753.4 V1040 C757.5 1035 764 1032.6 772.7 1032.6 V1047.2 C760 1047.2 753.4 1053 753.4 1063 V1083.1 Z"/>
<rect x="857.7" y="1052" width="14.3" height="31.4" fill="#03b6f8"/>
<path d="M831.4 1044.6 C836 1040.5 841 1038.75 848 1038.75 C858 1038.75 864.8 1043.5 864.8 1054" fill="none" stroke="#03b6f8" stroke-width="12.5"/>
<path fill-rule="evenodd" fill="#03b6f8" d="M860 1053.4 H842 C831 1053.4 824.1 1060 824.1 1069 C824.1 1078 831 1084.3 841 1084.3 C850 1084.3 857 1081 860 1076 Z M856.8 1062.5 H848 C842 1062.5 838.7 1065 838.7 1068.2 C838.7 1071.5 842 1074 847 1074 C852 1074 856 1072 856.8 1069 Z"/>
<path fill="#03b6f8" d="M880.7 1083.5 V1034.1 H896.2 V1039 C899.5 1034.5 905 1032.8 911 1032.8 C923 1032.8 929.3 1041 929.3 1053 V1083.5 H913 V1056 C913 1049.5 910 1046.1 905 1046.1 C899.5 1046.1 896.2 1050 896.2 1057 V1083.5 Z"/>
<path fill="#03b6f8" d="M944.3 1019 H959.8 V1034.1 H973.1 V1046.1 H959.8 V1064 C959.8 1069 962 1070.6 966 1070.6 H973.1 V1083.5 H964 C951 1083.5 944.3 1078 944.3 1066 V1046.1 H934.5 V1034.1 H944.3 Z"/>
</svg>

</body></html>
